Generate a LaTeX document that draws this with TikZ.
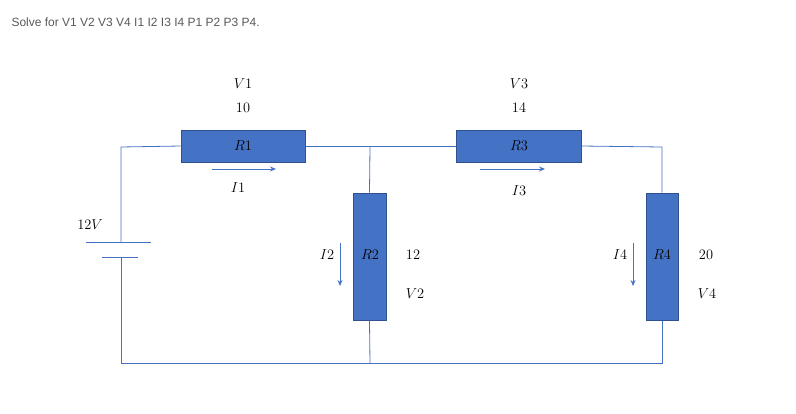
\documentclass[tikz,border=0pt]{standalone}
\usepackage{fontspec}
\usetikzlibrary{arrows.meta}
\newfontfamily\titlefont{Liberation Sans}
\begin{document}
\begin{tikzpicture}[x=1pt,y=-1pt,
  wire/.style={draw=wireblue,line width=0.8pt},
  res/.style={draw=boxedge,fill=resblue,line width=1pt,inner sep=0pt},
  lbl/.style={font=\Large,inner sep=0pt},
  cur/.style={draw=wireblue,line width=0.8pt,-{Stealth[length=6pt,width=5pt]}}]
\definecolor{wireblue}{HTML}{4472C4}
\definecolor{resblue}{HTML}{4472C4}
\definecolor{boxedge}{HTML}{2F528F}
\useasboundingbox (0,0) rectangle (796,413);
\node[anchor=west,text=black!65,font=\titlefont\fontsize{12}{14}\selectfont] (title) at (8,22) {Solve for V1 V2 V3 V4 I1 I2 I3 I4 P1 P2 P3 P4.};
% resistors
\node[res,minimum width=124pt,minimum height=32pt] (R1) at (243,146) {};
\node[res,minimum width=125pt,minimum height=32pt] (R3) at (518.5,146) {};
\node[res,minimum width=33pt,minimum height=127pt] (R2) at (369.5,256.5) {};
\node[res,minimum width=32pt,minimum height=127pt] (R4) at (662,256.5) {};
% coordinates
\coordinate (tl) at (121,147);
\coordinate (j) at (370,147);
\coordinate (tr) at (662,147);
\coordinate (bl) at (121,363);
\coordinate (bm) at (370,363);
\coordinate (br) at (662,363);
\coordinate (bt) at (121,242);
\coordinate (bb) at (121,257);
\coordinate (p1) at (86,242);
\coordinate (p2) at (151,242);
\coordinate (q1) at (102,257);
\coordinate (q2) at (138,257);
% wires
\draw[wire] (bt) -- (tl) -- (R1.west);
\draw[wire] (R1.east) -- (R3.west);
\draw[wire] (j) -- (R2.north);
\draw[wire] (R3.east) -- (tr) -- (R4.north);
\draw[wire] (R4.south) -- (br) -- (bl) -- (bb);
\draw[wire] (R2.south) -- (bm);
\draw[wire] (p1) -- (p2);
\draw[wire] (q1) -- (q2);
% labels
\node[lbl] (v1) at (243,84) {$V1$};
\node[lbl] (n10) at (243,108) {10};
\node[lbl] (r1l) at (243,146) {$R1$};
\node[lbl] (i1) at (238,188) {$I1$};
\node[lbl] (v3) at (519,84) {$V3$};
\node[lbl] (n14) at (519,108) {14};
\node[lbl] (r3l) at (519,146) {$R3$};
\node[lbl] (i3) at (519,191) {$I3$};
\node[lbl] (bv) at (90,225) {$12V$};
\node[lbl] (i2) at (327,255) {$I2$};
\node[lbl] (r2l) at (370,255) {$R2$};
\node[lbl] (n12) at (413,255) {12};
\node[lbl] (v2) at (415,294) {$V2$};
\node[lbl] (i4) at (620,255) {$I4$};
\node[lbl] (r4l) at (662,255) {$R4$};
\node[lbl] (n20) at (706,255) {20};
\node[lbl] (v4) at (707,294) {$V4$};
% current arrows
\coordinate (a1s) at (212,169); \coordinate (a1e) at (276,169);
\coordinate (a3s) at (480,169); \coordinate (a3e) at (545,169);
\coordinate (a2s) at (340,243); \coordinate (a2e) at (340,286);
\coordinate (a4s) at (633,243); \coordinate (a4e) at (633,286);
\draw[cur] (a1s) -- (a1e);
\draw[cur] (a3s) -- (a3e);
\draw[cur] (a2s) -- (a2e);
\draw[cur] (a4s) -- (a4e);
\end{tikzpicture}
\end{document}
